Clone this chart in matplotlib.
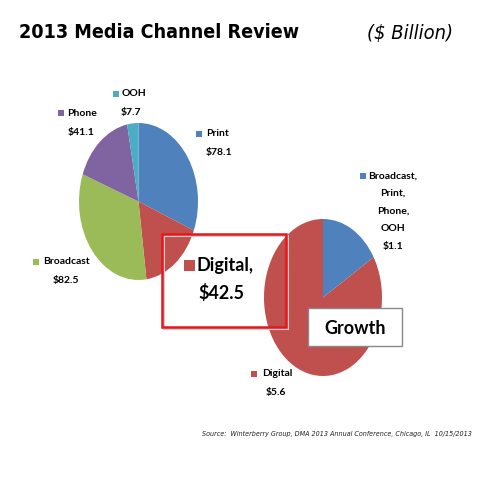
import numpy as np
from matplotlib import pyplot as plt
from matplotlib.patches import Rectangle
from matplotlib import font_manager

######################################## DATA ########################################

title = "2013 Media Channel Review"
unit = "($ Billion)"
source = "Source:  Winterberry Group, DMA 2013 Annual Conference, Chicago, IL  10/15/2013"

# left pie: total spend by channel (clockwise from 12 o'clock)
spend_labels = ["Print", "Digital", "Broadcast", "Phone", "OOH"]
spend_values = [78.1, 42.5, 82.5, 41.1, 7.7]
spend_colors = ["#4F81BD", "#C0504D", "#9BBB59", "#8064A2", "#4BACC6"]

# right pie: growth
growth_labels = ["Broadcast,\nPrint,\nPhone,\nOOH", "Digital"]
growth_values = [1.1, 5.6]
growth_colors = ["#4F81BD", "#C0504D"]

######################################## FONTS ########################################

names = {f.name for f in font_manager.fontManager.ttflist}
if "Liberation Sans Narrow" in names:
    narrow, stretch = ["Liberation Sans Narrow", "DejaVu Sans"], "normal"
else:
    narrow, stretch = ["DejaVu Sans"], "condensed"
lab_font = ["Lato", "DejaVu Sans"]

######################################## FIGURE ########################################

fig = plt.figure(figsize=(4.8, 4.8), dpi=100)
fig.patch.set_facecolor("white")
W = H = 480.0

def pie_axes(x0, y0, x1, y1):
    # pixel box (top-left origin) -> axes
    return fig.add_axes([x0 / W, 1 - y1 / H, (x1 - x0) / W, (y1 - y0) / H])

def draw_pie(ax, vals, cols):
    ax.pie(vals, colors=cols, startangle=90, counterclock=False,
           radius=1, wedgeprops=dict(linewidth=0))
    ax.set_aspect("auto")
    ax.set_xlim(-1, 1)
    ax.set_ylim(-1, 1)
    ax.axis("off")

ax1 = pie_axes(79, 123, 198, 280)
draw_pie(ax1, spend_values, spend_colors)
ax2 = pie_axes(264, 219, 382, 376)
draw_pie(ax2, growth_values, growth_colors)

# overlay in pixel coordinates
ov = fig.add_axes([0, 0, 1, 1], zorder=5)
ov.set_xlim(0, W)
ov.set_ylim(H, 0)
ov.axis("off")
ov.patch.set_alpha(0)

renderer = fig.canvas.get_renderer()

def fit(t, width):
    # shrink/grow font so that text spans given pixel width
    w = t.get_window_extent(renderer).width
    t.set_fontsize(t.get_fontsize() * width / w)

t = ov.text(19, 33, title, fontsize=20, fontweight="bold", family=narrow,
            fontstretch=stretch, ha="left", va="center")
fit(t, 281)
t = ov.text(453, 33, unit, fontsize=18, style="italic", family=narrow,
            fontstretch=stretch, ha="right", va="center")
fit(t, 86)
t = ov.text(472, 434, source, fontsize=6.3, style="italic", family=narrow,
            fontstretch=stretch, ha="right", va="center", color="#222222")
fit(t, 272)

def square(x, y, sq, color):
    ov.add_patch(Rectangle((x - sq / 2, y - sq / 2), sq, sq, color=color, lw=0))

def txt(x, y, s, size=7.5, ha="center"):
    return ov.text(x, y, s, fontsize=size, fontweight="bold", family=lab_font,
                   ha=ha, va="center")

# left pie labels: (marker x, text x, y, value center x)
left_pos = {
    "Print": (199, 206, 134, 219),
    "Broadcast": (36, 43, 262, 66),
    "Phone": (61, 67, 113, 81),
    "OOH": (116, 122, 94, 131),
}
for name, val, col in zip(spend_labels, spend_values, spend_colors):
    if name not in left_pos:
        continue
    mx, x, y, vx = left_pos[name]
    square(mx, y, 6, col)
    txt(x, y, name, ha="left")
    txt(vx, y + 19, "$%.1f" % val)

# highlighted digital box
i = spend_labels.index("Digital")
ov.add_patch(Rectangle((164, 236), 124, 93, fill=False, ec="#CCCCCC", lw=1.5, zorder=1))
ov.add_patch(Rectangle((162, 234), 124, 93, fill=False, ec="#E8161B", lw=1.8, zorder=2))
square(189, 265, 11, spend_colors[i])
txt(197, 266, spend_labels[i] + ",", size=13, ha="left")
txt(221, 293, "$%.1f" % spend_values[i], size=13)

# right pie labels
square(363, 176, 6, growth_colors[0])
lines = growth_labels[0].split("\n") + ["$%.1f" % growth_values[0]]
for k, s in enumerate(lines):
    txt(393, 176 + 17.5 * k, s)
square(254, 374, 6, growth_colors[1])
txt(262, 374, growth_labels[1], ha="left")
txt(276, 392, "$%.1f" % growth_values[1])

# growth box
ov.add_patch(Rectangle((308, 308), 94, 38, fc="white", ec="#888888", lw=1.0))
txt(355, 328, "Growth", size=13)

fig.savefig("out.png", dpi=100, facecolor="white")
